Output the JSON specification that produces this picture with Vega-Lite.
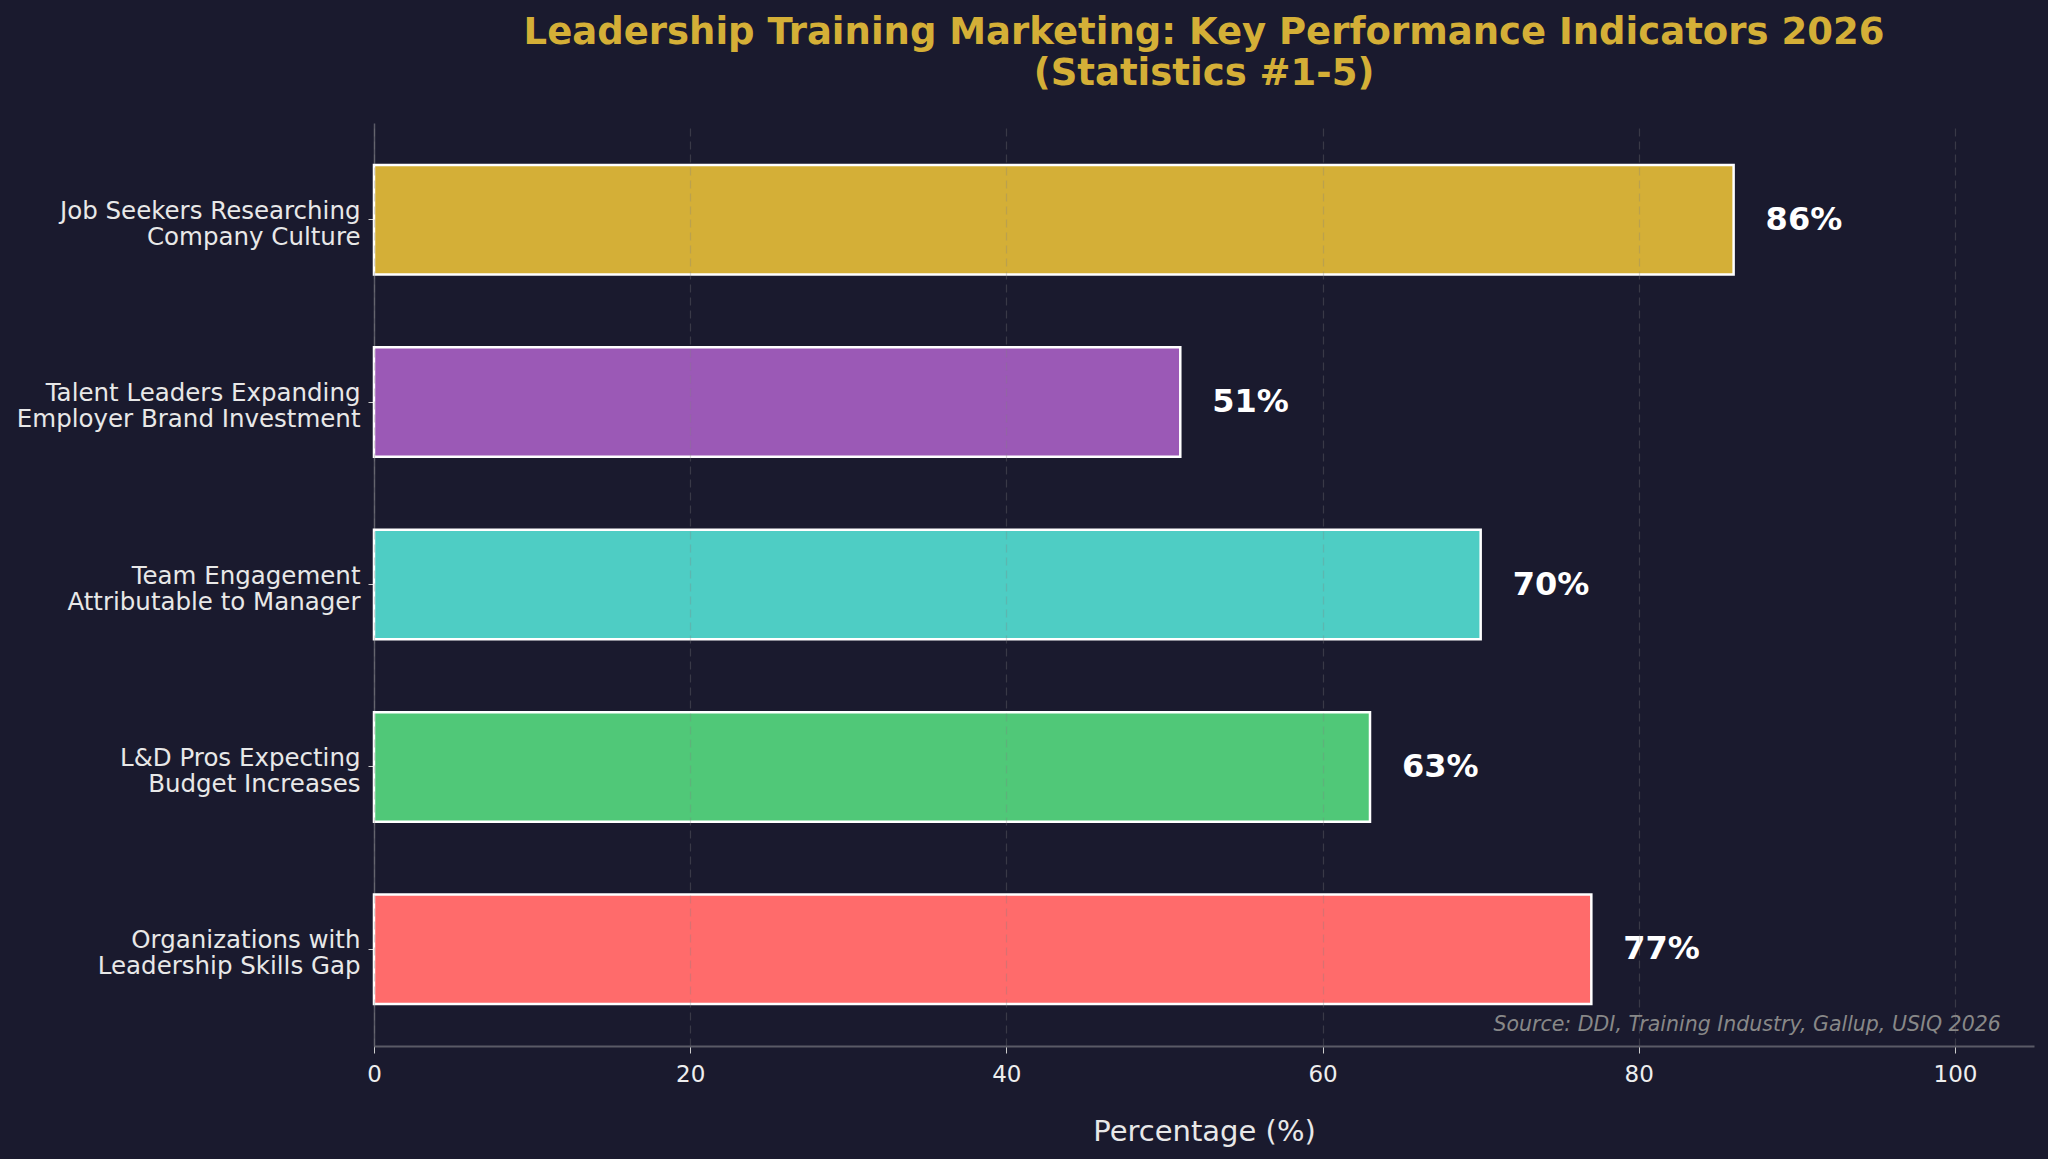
{
  "$schema": "https://vega.github.io/schema/vega-lite/v6.json",
  "width": 1660,
  "height": 923,
  "autosize": {"type": "none"},
  "padding": {"left": 374, "top": 123, "right": 14, "bottom": 113},
  "background": "#1A1A2E",
  "title": {
    "text": ["Leadership Training Marketing: Key Performance Indicators 2026", "(Statistics #1-5)"],
    "color": "#D4AF37",
    "fontSize": 37,
    "fontWeight": "bold",
    "font": "DejaVu Sans",
    "anchor": "middle",
    "frame": "group",
    "lineHeight": 41,
    "offset": 30
  },
  "config": {
    "view": {"stroke": null},
    "font": "DejaVu Sans"
  },
  "data": {
    "values": [
      {"metric": "Job Seekers Researching\nCompany Culture", "value": 86, "label": "86%"},
      {"metric": "Talent Leaders Expanding\nEmployer Brand Investment", "value": 51, "label": "51%"},
      {"metric": "Team Engagement\nAttributable to Manager", "value": 70, "label": "70%"},
      {"metric": "L&D Pros Expecting\nBudget Increases", "value": 63, "label": "63%"},
      {"metric": "Organizations with\nLeadership Skills Gap", "value": 77, "label": "77%"}
    ]
  },
  "layer": [
    {
      "mark": {"type": "bar", "stroke": "#FFFFFF", "strokeWidth": 2.5, "opacity": 1},
      "encoding": {
        "y": {
          "field": "metric",
          "type": "nominal",
          "sort": null,
          "scale": {"paddingInner": 0.4, "paddingOuter": 0.23},
          "axis": {
            "title": null,
            "labelExpr": "split(datum.label, '\\n')",
            "labelFontSize": 24.5,
            "labelLineHeight": 26,
            "labelLimit": 0,
            "labelOffset": -8,
            "labelColor": "#E8E8E8",
            "labelPadding": 8,
            "tickSize": 6,
            "tickColor": "#CCCCCC",
            "tickWidth": 1,
            "domainColor": "#5A5A66",
            "domainWidth": 1.5,
            "grid": false
          }
        },
        "x": {
          "field": "value",
          "type": "quantitative",
          "scale": {"domain": [0, 105], "nice": false},
          "axis": {
            "title": "Percentage (%)",
            "titleFontSize": 29,
            "titleFontWeight": "normal",
            "titleColor": "#E8E8E8",
            "titlePadding": 31,
            "values": [0, 20, 40, 60, 80, 100],
            "labelFontSize": 23,
            "labelColor": "#EEEEEE",
            "labelPadding": 10,
            "labelFlush": false,
            "tickSize": 7,
            "tickColor": "#CCCCCC",
            "tickWidth": 1,
            "domainColor": "#5A5A66",
            "domainWidth": 2,
            "grid": true,
            "gridColor": "#808080",
            "gridOpacity": 0.3,
            "gridDash": [8, 5],
            "gridWidth": 1.2,
            "zindex": 1
          }
        },
        "color": {
          "field": "metric",
          "type": "nominal",
          "sort": null,
          "legend": null,
          "scale": {"range": ["#D4AF37", "#9B59B6", "#4ECDC4", "#50C878", "#FF6B6B"]}
        }
      }
    },
    {
      "mark": {"type": "text", "align": "left", "baseline": "middle", "dx": 32, "fontSize": 32, "fontWeight": "bold", "color": "#FFFFFF"},
      "encoding": {
        "y": {"field": "metric", "type": "nominal", "sort": null},
        "x": {"field": "value", "type": "quantitative"},
        "text": {"field": "label"}
      }
    },
    {
      "data": {"values": [{"source": "Source: DDI, Training Industry, Gallup, USIQ 2026"}]},
      "mark": {"type": "text", "align": "right", "baseline": "middle", "dy": 76, "fontSize": 20.5, "fontStyle": "italic", "color": "#888888"},
      "encoding": {
        "y": {"datum": "Organizations with\nLeadership Skills Gap", "type": "nominal"},
        "x": {"datum": 102.9, "type": "quantitative"},
        "text": {"field": "source"}
      }
    }
  ]
}
